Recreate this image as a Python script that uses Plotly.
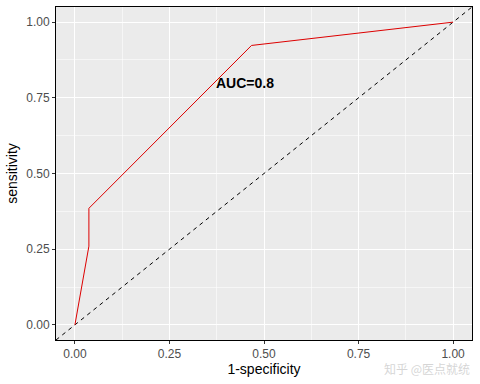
import plotly.graph_objects as go

fpr = [0.0, 0.0, 0.037, 0.037, 0.467, 1.0]
tpr = [0.0, 0.0, 0.26, 0.385, 0.923, 1.0]
ref_line = [-0.05, 1.05]
tick_vals = [0.0, 0.25, 0.5, 0.75, 1.0]
tick_text = ["0.00", "0.25", "0.50", "0.75", "1.00"]
auc_label = "<b>AUC=0.8</b>"

fig = go.Figure()
fig.add_trace(go.Scatter(x=ref_line, y=ref_line, mode="lines",
                         line=dict(color="black", width=1, dash="4px,4px"),
                         hoverinfo="skip", showlegend=False))
fig.add_trace(go.Scatter(x=fpr, y=tpr, mode="lines",
                         line=dict(color="#DD0000", width=1),
                         showlegend=False))
fig.add_annotation(x=0.45, y=0.80, text=auc_label, showarrow=False,
                   font=dict(family="Liberation Sans, Arial", size=14, color="black"))
fig.add_annotation(x=1.0, y=0.0, xref="paper", yref="paper", xanchor="right", yanchor="top",
                   yshift=-18, xshift=0,
                   text="知乎 @医点就统", showarrow=False,
                   font=dict(family="Noto Sans CJK SC", size=12, color="rgba(200,200,200,0.75)"))

axis_common = dict(
    range=[-0.05, 1.05], tickvals=tick_vals, ticktext=tick_text,
    showgrid=True, gridcolor="white", gridwidth=1,
    minor=dict(tickvals=[0.125, 0.375, 0.625, 0.875], showgrid=True,
               gridcolor="rgba(255,255,255,0.55)", gridwidth=0.5),
    zeroline=False, showline=True, linecolor="black", linewidth=1, mirror=True,
    ticks="outside", ticklen=3, tickcolor="#333333", tickwidth=1,
    tickfont=dict(family="Liberation Sans, Arial", size=12, color="#4D4D4D"),
    title_font=dict(family="Liberation Sans, Arial", size=14, color="black"),
)
fig.update_xaxes(title=dict(text="1-specificity", standoff=3), **axis_common)
fig.update_yaxes(title=dict(text="sensitivity", standoff=5), **axis_common)

fig.update_layout(
    width=480, height=384,
    margin=dict(l=56, r=8, t=7, b=44),
    plot_bgcolor="#EBEBEB", paper_bgcolor="white",
)
fig.write_html("out.html")
